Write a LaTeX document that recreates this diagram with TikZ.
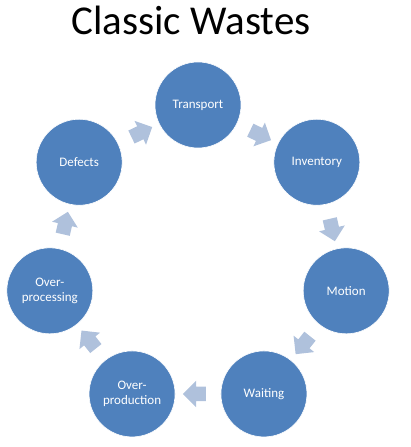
\documentclass[tikz,border=0pt]{standalone}
\usepackage{fontspec}
\setmainfont{Carlito}
\usetikzlibrary{shapes.arrows,calc}
\definecolor{circc}{HTML}{4F81BD}
\definecolor{arrc}{HTML}{AFC1DC}
\begin{document}
\begin{tikzpicture}[x=1pt,y=1pt,
  waste/.style={circle,fill=circc,draw=white,line width=0.6pt,minimum size=86pt,inner sep=0pt,
    text=white,align=center,font=\fontsize{13}{14.5}\selectfont},
  blockarrow/.style={single arrow,fill=arrc,draw=none,inner sep=0pt,text height=7pt,text depth=7pt,
    minimum height=23pt,single arrow head extend=6pt}]
\useasboundingbox (0,0) rectangle (410,447);
\node[anchor=base,font=\fontsize{41}{45}\selectfont] (title) at (191,412) {Classic Wastes};
\coordinate (c) at (198,190);
\node[waste] (T) at ($(c)+(90:152)$) {Transport};
\node[waste] (I) at ($(c)+(38.571:152)$) {Inventory};
\node[waste] (M) at ($(c)+(-12.857:152)$) {Motion};
\node[waste] (W) at ($(c)+(-64.286:152)$) {Waiting};
\node[waste] (P) at ($(c)+(-115.714:152)$) {Over-\\production};
\node[waste] (R) at ($(c)+(-167.143:152)$) {Over-\\processing};
\node[waste] (D) at ($(c)+(141.429:152)$) {Defects};
\foreach \a/\b in {T/I,I/M,M/W,W/P,P/R,R/D,D/T}{
  \path let \p1=($(\b)-(\a)$), \n1={atan2(\y1,\x1)} in
    node[blockarrow,rotate=\n1] at ($(\a)!0.5!(\b)$) {};
}
\end{tikzpicture}
\end{document}
